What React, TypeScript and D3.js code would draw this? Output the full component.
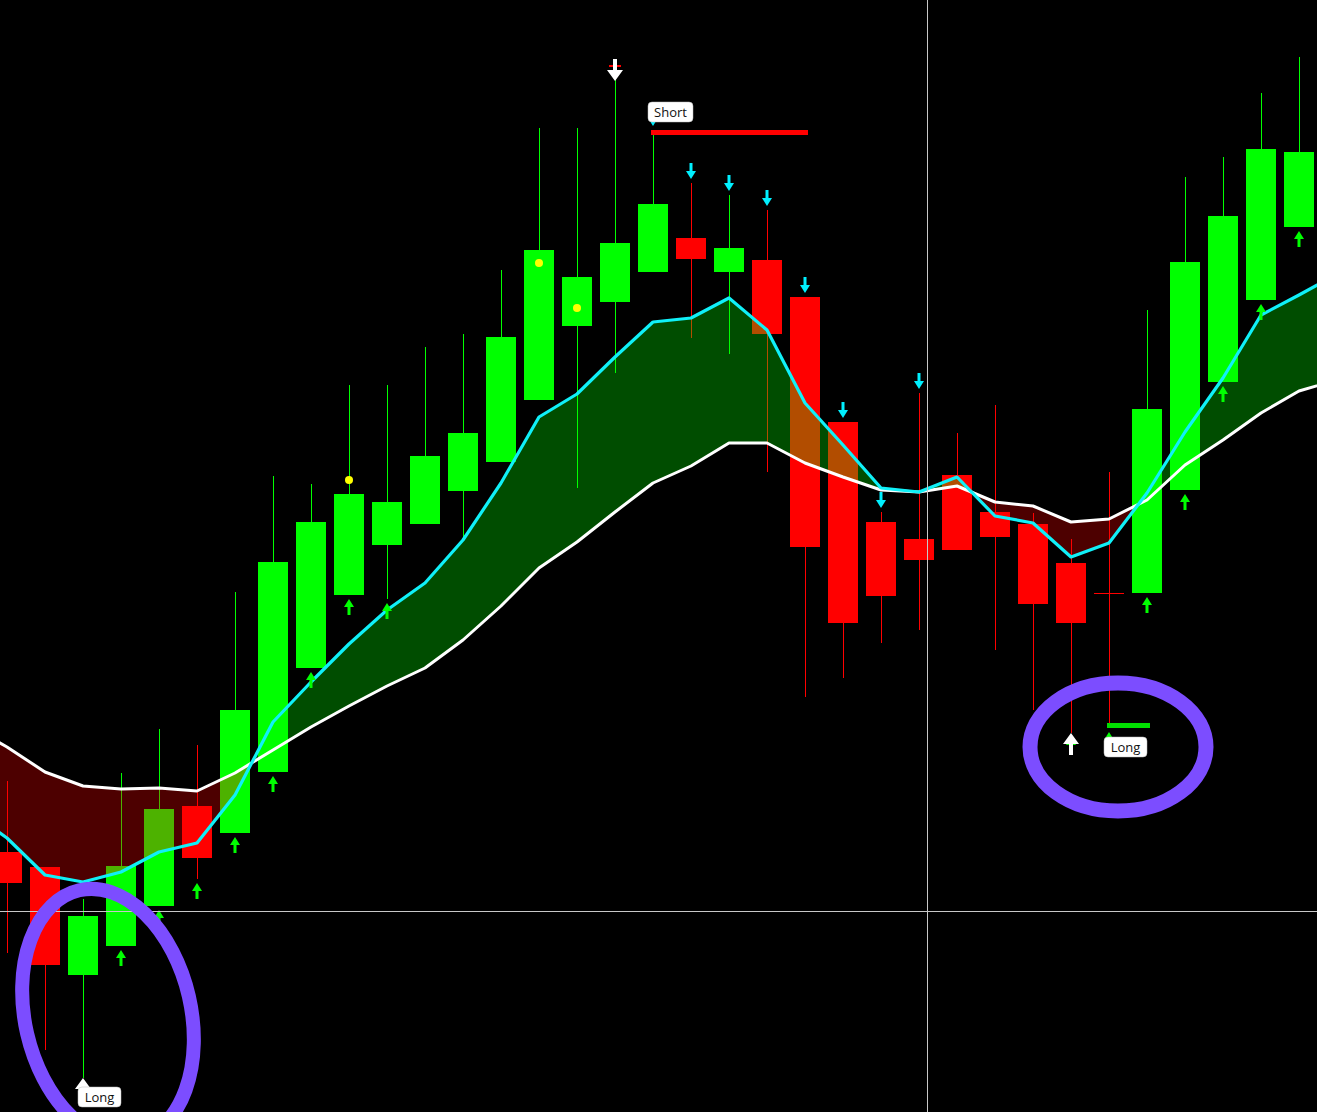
import React from 'react';
import * as d3 from 'd3';

const W = 1317;
const H = 1112;

// candles, index 0..34
const opens = [126.0, 124.5, 113.7, 116.6, 120.6, 130.6, 127.9, 134.0, 144.4, 151.7, 156.7, 158.8, 162.1, 165.0, 171.2, 178.6, 181.0, 184.0, 187.4, 184.0, 185.2, 181.5, 169.0, 159.0, 157.3, 163.7, 160.0, 158.8, 154.9, 151.9, 151.9, 162.2, 173.0, 181.2, 188.5];
const highs = [133.1, 124.5, 121.3, 133.9, 138.3, 136.7, 152.0, 163.6, 162.8, 172.7, 172.7, 176.5, 177.8, 184.2, 198.4, 198.4, 203.4, 198.2, 192.9, 191.7, 190.2, 181.5, 169.0, 160.0, 171.9, 167.9, 170.7, 159.9, 157.3, 164.0, 180.2, 193.5, 195.5, 201.9, 205.5];
const lows = [115.9, 106.2, 103.4, 116.6, 120.6, 123.3, 127.9, 134.0, 144.4, 151.7, 151.3, 158.8, 157.5, 165.0, 171.2, 162.4, 173.9, 184.0, 177.4, 175.8, 164.0, 141.5, 143.4, 146.9, 148.2, 156.2, 146.2, 140.2, 137.9, 138.4, 151.9, 162.2, 173.0, 181.2, 188.5];
const closes = [122.9, 114.7, 119.6, 124.6, 130.3, 125.4, 140.2, 155.0, 159.0, 161.8, 161.0, 165.6, 167.9, 177.5, 186.2, 183.5, 186.9, 190.8, 185.3, 186.4, 177.8, 156.5, 148.9, 151.6, 155.2, 156.2, 157.5, 150.8, 148.9, 151.9, 170.3, 185.0, 189.6, 196.3, 196.0];

// moving averages, index -1..35
const fastMA = [130.1, 127.4, 123.7, 123.0, 124.0, 126.0, 126.9, 131.7, 139.0, 143.0, 146.8, 150.2, 152.9, 157.2, 162.9, 169.5, 171.8, 175.5, 179.0, 179.4, 181.4, 178.2, 170.9, 166.7, 162.4, 162.0, 163.5, 159.6, 158.9, 155.5, 156.9, 161.9, 168.0, 173.4, 179.7, 181.7, 183.8];
const slowMA = [138.7, 136.5, 134.0, 132.6, 132.3, 132.4, 132.1, 133.9, 136.2, 138.5, 140.6, 142.6, 144.4, 147.2, 150.6, 154.4, 157.0, 160.0, 162.9, 164.6, 166.9, 166.9, 164.9, 163.5, 162.2, 162.0, 162.6, 161.0, 160.6, 159.0, 159.3, 161.2, 164.7, 167.2, 169.9, 172.1, 173.2];

// signals
const upArrowBars = [2, 3, 4, 5, 6, 7, 8, 9, 10, 28, 29, 30, 31, 32, 33, 34];
const downArrowBars = [17, 18, 19, 20, 21, 22, 23, 24];
const dotBars = [9, 14, 15];
const dotPrices = [163.2, 184.9, 180.4];
const bigUpBars = [2, 28];
const bigDownBars = [16];
const labels = [
  { bar: 17, text: 'Short', side: 'top' },
  { bar: 2, text: 'Long', side: 'bottom' },
  { bar: 29, text: 'Long', side: 'bottom' },
];
const shortLine = { from: 17, to: 21, price: 197.95 };
const longLine = { from: 29, to: 30, price: 138.65 };

const x = d3.scaleLinear().domain([0, 34]).range([7, 1299]);
const y = d3.scaleLinear().domain([100, 211.2]).range([H, 0]);
const bodyW = 30;

const smallUp = (cx: number, ty: number) =>
  `M${cx},${ty}L${cx + 5},${ty + 8}L${cx + 1.5},${ty + 8}L${cx + 1.5},${ty + 16}L${cx - 1.5},${ty + 16}L${cx - 1.5},${ty + 8}L${cx - 5},${ty + 8}Z`;
const smallDown = (cx: number, ty: number) =>
  `M${cx},${ty}L${cx + 5},${ty - 8}L${cx + 1.5},${ty - 8}L${cx + 1.5},${ty - 16}L${cx - 1.5},${ty - 16}L${cx - 1.5},${ty - 8}L${cx - 5},${ty - 8}Z`;
const bigUp = (cx: number, ty: number) =>
  `M${cx},${ty}L${cx + 8},${ty + 11}L${cx + 2},${ty + 11}L${cx + 2},${ty + 22}L${cx - 2},${ty + 22}L${cx - 2},${ty + 11}L${cx - 8},${ty + 11}Z`;
const bigDown = (cx: number, ty: number) =>
  `M${cx},${ty}L${cx + 8},${ty - 11}L${cx + 2},${ty - 11}L${cx + 2},${ty - 22}L${cx - 2},${ty - 22}L${cx - 2},${ty - 11}L${cx - 8},${ty - 11}Z`;

export default function App() {
  const maX = (_d: number, i: number) => x(i - 1);
  const line = d3.line<number>().x(maX).y(d => y(d));
  const band = d3
    .area<number>()
    .x(maX)
    .y0(d => y(d))
    .y1((_d, i) => y(slowMA[i]));
  const aboveSlow = d3.area<number>().x(maX).y0(0).y1(d => y(d));
  const belowSlow = d3.area<number>().x(maX).y0(H).y1(d => y(d));

  return (
    <svg
      width={W}
      height={H}
      style={{ position: 'absolute', left: 0, top: 0, background: '#000', display: 'block' }}
    >
      <defs>
        <clipPath id="above">
          <path d={aboveSlow(slowMA) || ''} />
        </clipPath>
        <clipPath id="below">
          <path d={belowSlow(slowMA) || ''} />
        </clipPath>
      </defs>
      <rect width={W} height={H} fill="#000" />

      {/* candles */}
      <g shapeRendering="crispEdges">
        {opens.map((o, i) => {
          const c = closes[i];
          const col = c > o ? '#00ff00' : '#ff0000';
          const top = Math.round(y(Math.max(o, c)));
          const h = Math.max(1, Math.round(Math.abs(y(o) - y(c))));
          return (
            <g key={i}>
              <rect x={x(i)} y={y(highs[i])} width={1} height={y(lows[i]) - y(highs[i])} fill={col} />
              <rect x={x(i) - bodyW / 2} y={top} width={bodyW} height={h} fill={col} />
            </g>
          );
        })}
      </g>

      {/* MA cloud */}
      <path d={band(fastMA) || ''} fill="rgba(0,255,0,0.3)" clipPath="url(#above)" />
      <path d={band(fastMA) || ''} fill="rgba(255,0,0,0.3)" clipPath="url(#below)" />
      <path d={line(slowMA) || ''} fill="none" stroke="#ffffff" strokeWidth={3} strokeLinejoin="round" />
      <path d={line(fastMA) || ''} fill="none" stroke="#10f0f8" strokeWidth={3.2} strokeLinejoin="round" />

      {/* yellow dots */}
      {dotBars.map((b, k) => (
        <circle key={k} cx={x(b)} cy={y(dotPrices[k])} r={4} fill="#ffff00" />
      ))}

      {/* small arrows */}
      {upArrowBars.map(b => (
        <path key={'u' + b} d={smallUp(x(b), y(lows[b]) + 4)} fill="#00ff00" />
      ))}
      {downArrowBars.map(b => (
        <path key={'d' + b} d={smallDown(x(b), y(highs[b]) - 4)} fill="#00f0ff" />
      ))}

      {/* signal arrows */}
      {bigDownBars.map(b => (
        <g key={'bd' + b}>
          <path d={`M${x(b) - 6},${y(highs[b]) - 13}h12v2h-12z`} fill="#ff0000" />
          <path d={bigDown(x(b), y(highs[b]) + 3)} fill="#ffffff" />
        </g>
      ))}
      {bigUpBars.map(b => (
        <path key={'bu' + b} d={bigUp(x(b), y(lows[b]))} fill="#ffffff" />
      ))}

      {/* signal levels */}
      <rect
        x={x(shortLine.from) - 2}
        y={y(shortLine.price) - 2.5}
        width={x(shortLine.to) - x(shortLine.from) + 5}
        height={5}
        fill="#ff0000"
      />
      <rect
        x={x(longLine.from) - 2}
        y={y(longLine.price) - 2.5}
        width={x(longLine.to) - x(longLine.from) + 5}
        height={5}
        fill="#00e000"
      />

      {/* labels */}
      {labels.map((l, k) => {
        const w = l.text === 'Short' ? 45 : 43;
        const lx = x(l.bar) - 5;
        const ly = l.side === 'top' ? y(highs[l.bar]) - 28 : y(lows[l.bar]) + 9;
        return (
          <g key={k}>
            <rect x={lx} y={ly} width={w} height={20} rx={4} fill="#ffffff" stroke="#bbbbbb" strokeWidth={0.5} />
            <text
              x={lx + w / 2}
              y={ly + 15}
              textAnchor="middle"
              fontFamily="'Open Sans', 'Noto Sans', sans-serif"
              fontSize={13}
              fill="#111"
            >
              {l.text}
            </text>
          </g>
        );
      })}

      {/* crosshair */}
      <line x1={927.5} x2={927.5} y1={0} y2={H} stroke="#c8c8c8" strokeWidth={1} />
      <line x1={0} x2={W} y1={911.5} y2={911.5} stroke="#c8c8c8" strokeWidth={1} />

      {/* annotations */}
      <ellipse
        cx={108}
        cy={1015}
        rx={83}
        ry={128}
        transform="rotate(-13 108 1015)"
        fill="none"
        stroke="#7c4dff"
        strokeWidth={14}
      />
      <ellipse cx={1118} cy={747} rx={88} ry={64} fill="none" stroke="#7c4dff" strokeWidth={15} />
    </svg>
  );
}
